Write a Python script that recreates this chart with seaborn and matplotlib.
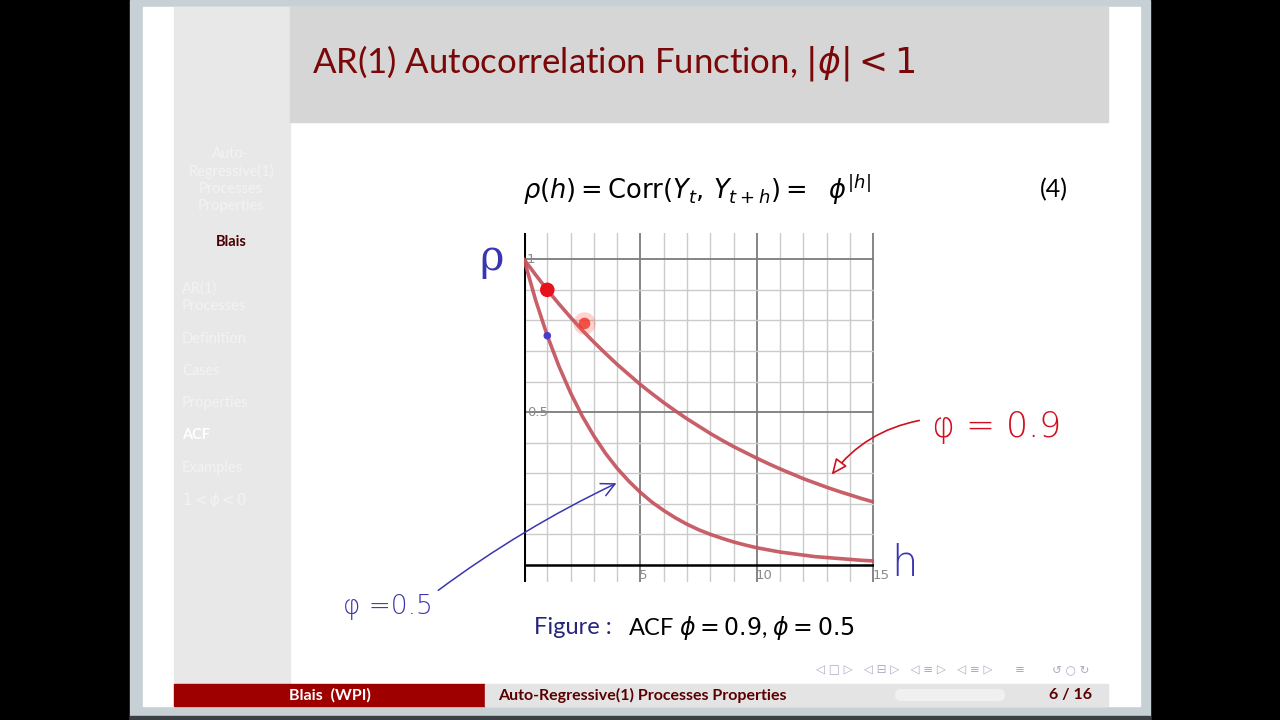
import pandas as pd
import matplotlib
matplotlib.use("Agg")
import matplotlib.pyplot as plt
from matplotlib.patches import Rectangle, FancyBboxPatch
import seaborn as sns

# values, lag h in steps of 0.5
lags = [0, 0.5, 1, 1.5, 2, 2.5, 3, 3.5, 4, 4.5, 5, 5.5, 6, 6.5, 7, 7.5,
        8, 8.5, 9, 9.5, 10, 10.5, 11, 11.5, 12, 12.5, 13, 13.5, 14, 14.5, 15]
acf_09 = [1.000, 0.949, 0.900, 0.854, 0.810, 0.768, 0.729, 0.692, 0.656,
          0.623, 0.590, 0.560, 0.531, 0.504, 0.478, 0.454, 0.430, 0.408,
          0.387, 0.368, 0.349, 0.331, 0.314, 0.298, 0.282, 0.268, 0.254,
          0.241, 0.229, 0.217, 0.206]
acf_05 = [1.000, 0.866, 0.750, 0.650, 0.563, 0.487, 0.422, 0.365, 0.316,
          0.274, 0.237, 0.205, 0.178, 0.154, 0.133, 0.115, 0.100, 0.087,
          0.075, 0.065, 0.056, 0.049, 0.042, 0.037, 0.032, 0.027, 0.024,
          0.021, 0.018, 0.015, 0.013]
series_names = ["0.9", "0.5"]

# pen marks drawn on the slide
red_dot = (1.0, 0.90)
laser_dot = (2.6, 0.79)
blue_dot = (1.0, 0.75)

x_tick_vals = [5, 10, 15]
y_tick_vals = [0.5, 1]
y_tick_text = ["0.5", "1"]

nav_items = ["AR(1)\nProcesses", "Definition", "Cases", "Properties", "ACF",
             "Examples", r"$1 < \phi < 0$"]
nav_y = [297, 339, 371, 403, 435, 468, 500]

DARK_RED = "#7a0808"
CURVE = "#c4525c"
INK_BLUE = "#3a35b0"
INK_RED = "#d0101e"
ICON = "#a9adc4"

sns.set_theme(style="white")
plt.rcParams["font.family"] = ["Lato", "DejaVu Sans"]
plt.rcParams["mathtext.fontset"] = "dejavusans"

fig = plt.figure(figsize=(12.8, 7.2), dpi=100)
fig.patch.set_facecolor("black")

# slide background in pixel coordinates
bg = fig.add_axes([0, 0, 1, 1], zorder=0)
bg.set_xlim(0, 1280); bg.set_ylim(720, 0); bg.axis("off")
bg.add_patch(Rectangle((130, 0), 1020, 720, color="#c6d0d5"))
bg.add_patch(Rectangle((143, 7), 997, 699, color="white"))
bg.add_patch(Rectangle((174, 7), 116, 678, color="#e8e8e8"))
bg.add_patch(Rectangle((290, 7), 818, 115, color="#d6d6d6"))
bg.add_patch(Rectangle((174, 684), 311, 22, color="#9e0000"))
bg.add_patch(Rectangle((485, 684), 623, 22, color="#e4e4e4"))
bg.add_patch(FancyBboxPatch((895, 689), 110, 12, boxstyle="round,pad=0,rounding_size=6",
                            color="#f0f0f0", lw=0))
bg.add_patch(Rectangle((130, 716), 1020, 4, color="#3a4044"))

bg.text(312, 63, r"AR(1) Autocorrelation Function, $|\phi| < 1$", fontsize=25,
        color=DARK_RED, va="center", ha="left")
bg.text(231, 180, "Auto-\nRegressive(1)\nProcesses\nProperties", fontsize=10.5,
        color="#f3f3f3", ha="center", va="center", linespacing=1.25)
bg.text(231, 242, "Blais", fontsize=10.5, color="#4a0000", ha="center",
        va="center", fontweight="bold")
for label, y in zip(nav_items, nav_y):
    col = "white" if label == "ACF" else "#f3f3f3"
    bg.text(182, y, label, fontsize=10.5, color=col, ha="left", va="center",
            linespacing=1.3, fontweight="bold" if label == "ACF" else "normal")

bg.text(697, 190, r"$\rho(h) = \mathrm{Corr}(Y_t,\, Y_{t+h}) =\ \ \phi^{|h|}$",
        fontsize=18.5, ha="center", va="center", color="black")
bg.text(1054, 190, "(4)", fontsize=18, ha="center", va="center", color="black")

bg.text(534, 628, "Figure :", fontsize=17, color="#25257a", ha="left", va="center")
bg.text(628, 628, r"ACF $\phi = 0.9$, $\phi = 0.5$", fontsize=17, color="black",
        ha="left", va="center")

bg.text(1025, 670, "◁ □ ▷   ◁ ⊟ ▷   ◁ ≡ ▷   ◁ ≡ ▷      ≡", fontsize=8.5,
        color=ICON, ha="right", va="center", family=["DejaVu Sans"])
bg.text(1052, 670, "↺ ○ ↻", fontsize=8.5, color=ICON, ha="left", va="center",
        family=["DejaVu Sans"])

bg.text(330, 695, "Blais  (WPI)", fontsize=11.5, color="white", ha="center",
        va="center", fontweight="bold")
bg.text(498, 695, "Auto-Regressive(1) Processes Properties", fontsize=11.5,
        color="#5a0000", ha="left", va="center", fontweight="bold")
bg.text(1092, 695, "6 / 16", fontsize=11.5, color="#5a0000", ha="right",
        va="center", fontweight="bold")

# the chart itself
df = pd.DataFrame({
    "h": lags * 2,
    "rho": acf_09 + acf_05,
    "phi": [series_names[0]] * len(lags) + [series_names[1]] * len(lags),
})

ax = fig.add_axes([524 / 1280, (720 - 582) / 720, 350 / 1280, 349 / 720], zorder=2)
ax.set_facecolor("white")
ax.set_xlim(0, 15.03)
ax.set_ylim(-0.056, 1.086)
ax.set_xticks(x_tick_vals)
ax.set_xticks([v for v in range(1, 15) if v not in x_tick_vals], minor=True)
ax.set_yticks(y_tick_vals)
ax.set_yticks([0.1, 0.2, 0.3, 0.4, 0.6, 0.7, 0.8, 0.9], minor=True)
ax.grid(which="minor", color="#cbcbcb", lw=1.0)
ax.grid(which="major", color="#7c7c7c", lw=1.3)
ax.tick_params(which="both", length=0, labelbottom=False, labelleft=False)
for s in ax.spines.values():
    s.set_visible(False)
ax.axvline(0, color="black", lw=2.2, zorder=3)
ax.axhline(0, color="black", lw=1.8, zorder=3)

sns.lineplot(data=df, x="h", y="rho", hue="phi", palette=[CURVE, CURVE],
             lw=2.6, alpha=0.92, legend=False, ax=ax, zorder=4)
ax.set_xlabel(""); ax.set_ylabel("")

for v in x_tick_vals:
    ax.text(v - 0.05, -0.012, str(v), fontsize=9.5, color="#8a8a8a", ha="left",
            va="top", family=["DejaVu Sans"])
for v, t in zip(y_tick_vals, y_tick_text):
    ax.text(0.12, v, t, fontsize=9.5, color="#8a8a8a", ha="left", va="center",
            family=["DejaVu Sans"])

sns.scatterplot(x=[laser_dot[0]], y=[laser_dot[1]], s=260, color="#ff5040",
                alpha=0.25, edgecolor="none", ax=ax, zorder=5)
sns.scatterplot(x=[laser_dot[0]], y=[laser_dot[1]], s=70, color="#f03020",
                alpha=0.8, edgecolor="none", ax=ax, zorder=5)
sns.scatterplot(x=[red_dot[0]], y=[red_dot[1]], s=110, color="#e8101a",
                edgecolor="none", ax=ax, zorder=6)
sns.scatterplot(x=[blue_dot[0]], y=[blue_dot[1]], s=30, color="#4a3cc8",
                edgecolor="none", ax=ax, zorder=6)

# handwritten notes on top of everything
ov = fig.add_axes([0, 0, 1, 1], zorder=5)
ov.set_xlim(0, 1280); ov.set_ylim(720, 0); ov.axis("off")
ov.patch.set_alpha(0)
ov.text(492, 258, "ρ", fontsize=30, color=INK_BLUE, ha="center", va="center",
        family=["DejaVu Serif"], fontweight="light")
ov.text(905, 563, "h", fontsize=30, color=INK_BLUE, ha="center", va="center",
        family=["DejaVu Sans"], fontweight="light")
ov.text(932, 427, "φ = 0.9", fontsize=25, color=INK_RED, ha="left", va="center",
        family=["DejaVu Sans"], fontweight="light")
ov.text(343, 607, "φ =0.5", fontsize=19, color=INK_BLUE, ha="left", va="center",
        family=["DejaVu Sans"], fontweight="light")
ov.annotate("", xy=(830, 477), xytext=(922, 420),
            arrowprops=dict(arrowstyle="-|>,head_length=0.8,head_width=0.35",
                            color=INK_RED, lw=1.2, fc="white",
                            connectionstyle="arc3,rad=0.2"))
ov.annotate("", xy=(619, 482), xytext=(436, 592),
            arrowprops=dict(arrowstyle="->,head_length=0.8,head_width=0.4",
                            color=INK_BLUE, lw=1.1,
                            connectionstyle="arc3,rad=-0.05"))

fig.savefig("out.png", dpi=100, facecolor=fig.get_facecolor())
